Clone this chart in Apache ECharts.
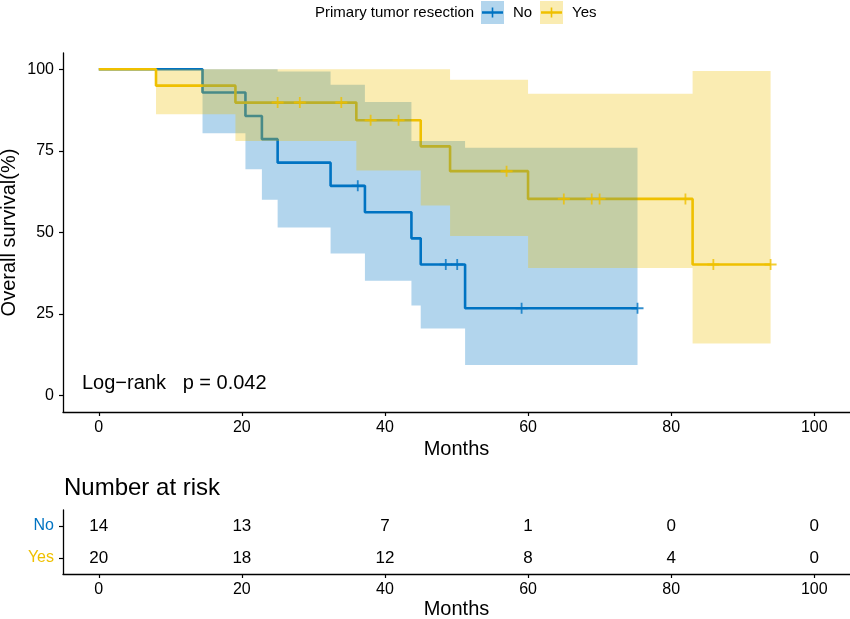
<!DOCTYPE html>
<html>
<head>
<meta charset="utf-8">
<script src="https://cdn.jsdelivr.net/npm/echarts@6/dist/echarts.min.js"></script>
<style>
  html, body { margin: 0; padding: 0; background: #fff; }
  #chart { width: 850px; height: 619px; }
</style>
</head>
<body>
<div id="chart"></div>
<script>
// Kaplan-Meier steps (months, survival %)
const noTime = [0, 14.5, 20.5, 22.8, 25.0, 32.4, 37.2, 43.7, 45.0, 51.2]
const noSurv = [100, 92.9, 85.7, 78.6, 71.4, 64.3, 56.2, 48.2, 40.2, 26.8]
const noUpper = [100, 100, 100, 100, 99.3, 95.3, 90.0, 78.0, 78.0, 76.0]
const noLower = [100, 80.4, 69.4, 60.0, 51.5, 43.6, 35.2, 27.6, 20.6, 9.4]
const noEnd = 75.3
const noCensorTime = [36.2, 48.5, 50.1, 59.1, 75.3]
const noCensorSurv = [64.3, 40.2, 40.2, 26.8, 26.8]

const yesTime = [0, 8.0, 19.1, 36.0, 45.0, 49.1, 60.0, 83.0]
const yesSurv = [100, 95.0, 89.8, 84.4, 76.4, 68.8, 60.3, 40.2]
const yesUpper = [100, 100, 100, 100, 100, 96.8, 92.5, 99.5]
const yesLower = [100, 86.2, 78.0, 69.0, 58.3, 48.9, 39.1, 16.0]
const yesEnd = 93.9
const yesCensorTime = [25.0, 28.1, 33.9, 38.0, 41.9, 57.0, 65.0, 68.9, 70.0, 82.0, 85.9, 93.9]
const yesCensorSurv = [89.8, 89.8, 89.8, 84.4, 84.4, 68.8, 60.3, 60.3, 60.3, 60.3, 40.2, 40.2]

// number at risk table
const riskTimes = [0, 20, 40, 60, 80, 100]
const riskNo = [14, 13, 7, 1, 0, 0]
const riskYes = [20, 18, 12, 8, 4, 0]

const xTicks = [0, 20, 40, 60, 80, 100]
const yTicks = [0, 25, 50, 75, 100]
const groups = ['Yes', 'No']

const BLUE = '#0073C2'
const YELLOW = '#EFC000'
const FONT = '"Liberation Sans", Arial, Helvetica, sans-serif'
const PLUS = 'path://M0,4.1H12V5.9H0Z M5.1,0H6.9V10H5.1Z'

const myChart = echarts.init(document.getElementById('chart'))

function stepData(times, surv, end) {
  const d = times.map((t, i) => [t, surv[i]])
  d.push([end, surv[surv.length - 1]])
  return d
}

function bandPoints(api, times, upper, lower, end) {
  const pts = []
  const next = i => (i + 1 < times.length ? times[i + 1] : end)
  for (let i = 0; i < times.length; i++) {
    pts.push(api.coord([times[i], upper[i]]), api.coord([next(i), upper[i]]))
  }
  for (let i = times.length - 1; i >= 0; i--) {
    pts.push(api.coord([next(i), lower[i]]), api.coord([times[i], lower[i]]))
  }
  return pts
}

function band(times, upper, lower, end, color, z) {
  return {
    type: 'custom',
    xAxisIndex: 0,
    yAxisIndex: 0,
    silent: true,
    z: z,
    data: [[0, 100]],
    renderItem: (params, api) => ({
      type: 'polygon',
      shape: { points: bandPoints(api, times, upper, lower, end) },
      style: { fill: color, opacity: 0.3 }
    })
  }
}

function stepLine(name, times, surv, end, color) {
  return {
    name: name,
    type: 'line',
    step: 'end',
    xAxisIndex: 0,
    yAxisIndex: 0,
    showSymbol: false,
    silent: true,
    z: 2,
    lineStyle: { color: color, width: 2.6 },
    data: stepData(times, surv, end)
  }
}

function censors(times, surv, color) {
  return {
    type: 'scatter',
    xAxisIndex: 0,
    yAxisIndex: 0,
    symbol: PLUS,
    symbolSize: [12, 11],
    silent: true,
    z: 5,
    itemStyle: { color: color },
    data: times.map((t, i) => [t, surv[i]])
  }
}

const riskData = []
riskTimes.forEach((t, i) => {
  riskData.push([t, 'No', riskNo[i]])
  riskData.push([t, 'Yes', riskYes[i]])
})

const axisCommon = {
  axisLine: { show: true, onZero: false, lineStyle: { color: '#000', width: 1.3 } },
  axisTick: { show: true, length: 4, lineStyle: { color: '#000', width: 1.2 } },
  splitLine: { show: false }
}

const label = { color: '#000', fontSize: 16, fontFamily: FONT }

const option = {
  animation: false,
  backgroundColor: '#fff',
  textStyle: { fontFamily: FONT },
  grid: [
    { left: 63, right: 0, top: 53, height: 359, outerBoundsMode: 'none', containLabel: false },
    { left: 63, right: 0, top: 510, height: 64, outerBoundsMode: 'none', containLabel: false }
  ],
  xAxis: [
    {
      ...axisCommon,
      type: 'value',
      gridIndex: 0,
      min: -5,
      max: 105,
      axisTick: { ...axisCommon.axisTick, customValues: xTicks },
      axisLabel: { ...label, margin: 8, customValues: xTicks },
      name: 'Months',
      nameLocation: 'middle',
      nameGap: 27,
      nameMoveOverlap: false,
      nameTextStyle: { color: '#000', fontSize: 20, fontFamily: FONT }
    },
    {
      ...axisCommon,
      type: 'value',
      gridIndex: 1,
      min: -5,
      max: 105,
      axisTick: { ...axisCommon.axisTick, customValues: xTicks },
      axisLabel: { ...label, margin: 8, customValues: xTicks },
      name: 'Months',
      nameLocation: 'middle',
      nameGap: 25,
      nameMoveOverlap: false,
      nameTextStyle: { color: '#000', fontSize: 20, fontFamily: FONT }
    }
  ],
  yAxis: [
    {
      ...axisCommon,
      type: 'value',
      gridIndex: 0,
      min: -5,
      max: 105,
      axisTick: { ...axisCommon.axisTick, customValues: yTicks },
      axisLabel: { ...label, margin: 9, customValues: yTicks },
      name: 'Overall survival(%)',
      nameLocation: 'middle',
      nameGap: 44,
      nameMoveOverlap: false,
      nameTextStyle: { color: '#000', fontSize: 20, fontFamily: FONT }
    },
    {
      ...axisCommon,
      type: 'category',
      gridIndex: 1,
      data: groups,
      axisTick: { ...axisCommon.axisTick, alignWithLabel: true },
      axisLabel: {
        margin: 9,
        formatter: v => (v === 'No' ? '{no|No}' : '{yes|Yes}'),
        rich: {
          no: { color: BLUE, fontSize: 16, fontFamily: FONT },
          yes: { color: YELLOW, fontSize: 16, fontFamily: FONT }
        }
      }
    }
  ],
  graphic: [
    {
      type: 'text', x: 315, y: 13,
      style: { text: 'Primary tumor resection', fontSize: 15, fontFamily: FONT, fill: '#000', verticalAlign: 'middle' }
    },
    { type: 'rect', shape: { x: 481, y: 1, width: 23, height: 23 }, style: { fill: BLUE, opacity: 0.3 } },
    { type: 'line', shape: { x1: 482, y1: 12.5, x2: 503, y2: 12.5 }, style: { stroke: BLUE, lineWidth: 2.5 } },
    { type: 'line', shape: { x1: 492.5, y1: 7.5, x2: 492.5, y2: 17.5 }, style: { stroke: BLUE, lineWidth: 1.6 } },
    {
      type: 'text', x: 513, y: 13,
      style: { text: 'No', fontSize: 15, fontFamily: FONT, fill: '#000', verticalAlign: 'middle' }
    },
    { type: 'rect', shape: { x: 540, y: 1, width: 23, height: 23 }, style: { fill: YELLOW, opacity: 0.3 } },
    { type: 'line', shape: { x1: 541, y1: 12.5, x2: 562, y2: 12.5 }, style: { stroke: YELLOW, lineWidth: 2.5 } },
    { type: 'line', shape: { x1: 551.5, y1: 7.5, x2: 551.5, y2: 17.5 }, style: { stroke: YELLOW, lineWidth: 1.6 } },
    {
      type: 'text', x: 572, y: 13,
      style: { text: 'Yes', fontSize: 15, fontFamily: FONT, fill: '#000', verticalAlign: 'middle' }
    },
    {
      type: 'text', x: 82, y: 383,
      style: { text: 'Log\u2212rank   p = 0.042', fontSize: 20, fontFamily: FONT, fill: '#000', verticalAlign: 'middle' }
    },
    {
      type: 'text', x: 64, y: 488,
      style: { text: 'Number at risk', fontSize: 24, fontFamily: FONT, fill: '#000', verticalAlign: 'middle' }
    }
  ],
  series: [
    stepLine('No', noTime, noSurv, noEnd, BLUE),
    stepLine('Yes', yesTime, yesSurv, yesEnd, YELLOW),
    band(noTime, noUpper, noLower, noEnd, BLUE, 3),
    band(yesTime, yesUpper, yesLower, yesEnd, YELLOW, 4),
    censors(noCensorTime, noCensorSurv, BLUE),
    censors(yesCensorTime, yesCensorSurv, YELLOW),
    {
      type: 'custom',
      xAxisIndex: 1,
      yAxisIndex: 1,
      silent: true,
      encode: { x: 0, y: 1 },
      data: riskData,
      renderItem: (params, api) => {
        const p = api.coord([api.value(0), api.value(1)])
        return {
          type: 'text',
          x: p[0],
          y: p[1],
          style: {
            text: String(api.value(2)),
            fontSize: 17,
            fontFamily: FONT,
            fill: '#000',
            align: 'center',
            verticalAlign: 'middle'
          }
        }
      }
    }
  ]
}

myChart.setOption(option)
</script>
</body>
</html>
